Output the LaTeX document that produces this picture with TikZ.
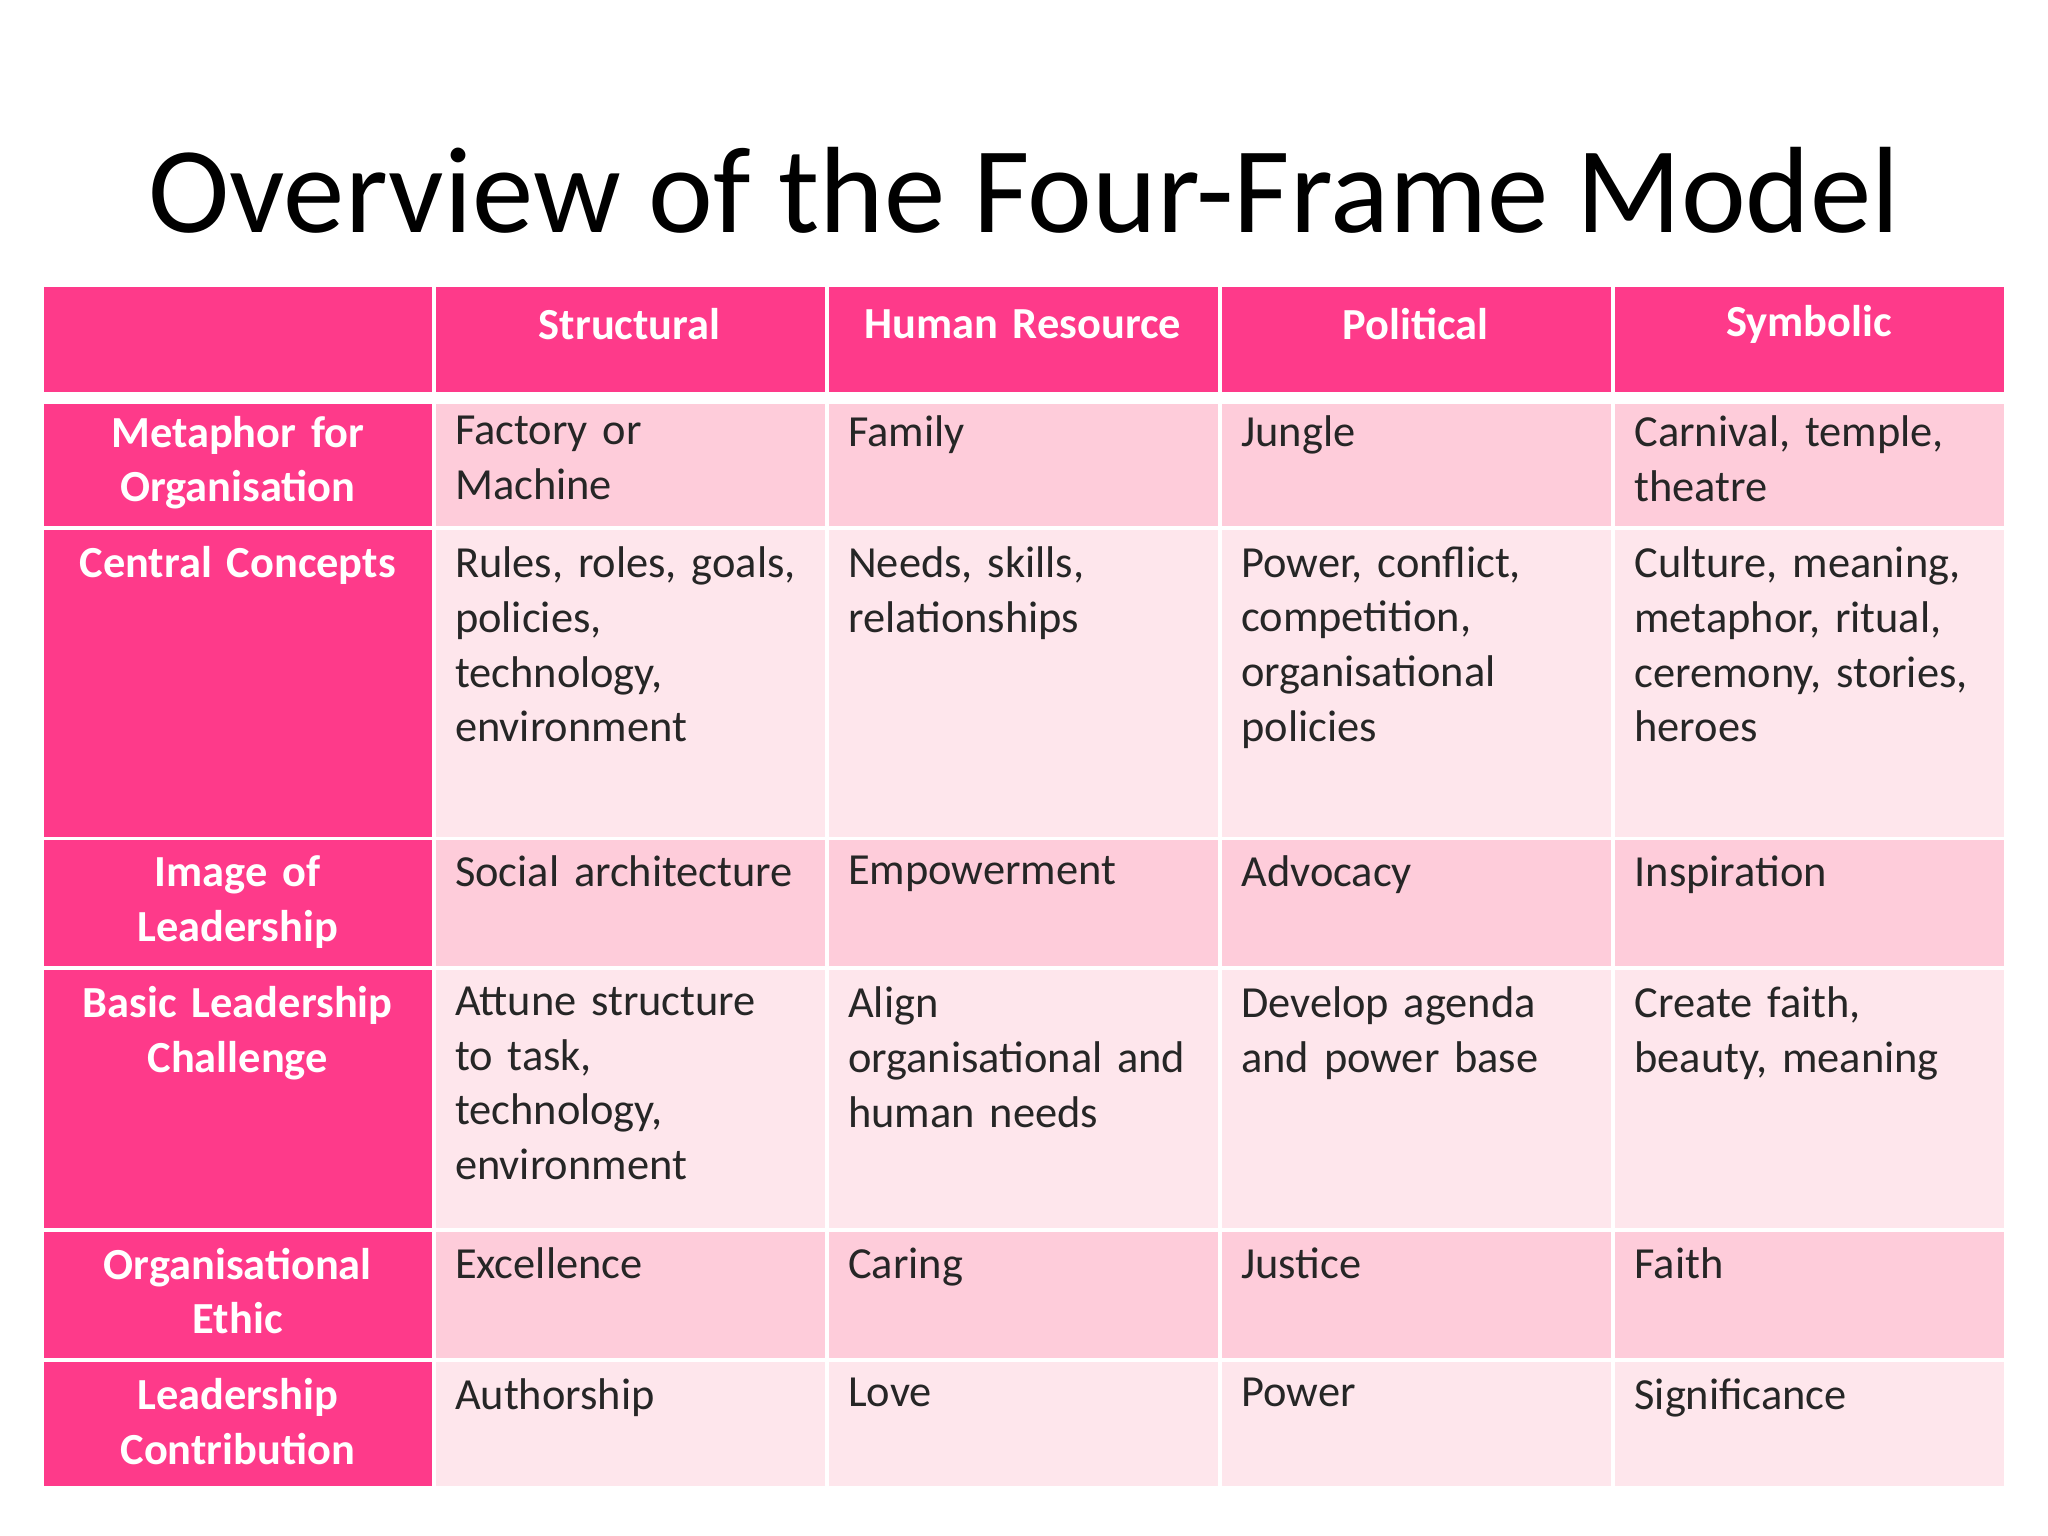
\documentclass[tikz,border=0pt]{standalone}
\usepackage{fontspec}
\setmainfont{Carlito}
\definecolor{mag}{HTML}{FE3A8A}
\definecolor{pinkA}{HTML}{FECCDA}
\definecolor{pinkB}{HTML}{FEE6EC}
\begin{document}
\begin{tikzpicture}[x=0.5pt,y=-0.5pt,
  cellbox/.style={draw=white,line width=1.5pt},
  txt/.style={anchor=north west,inner sep=0pt,align=left,text width=140pt,font=\fontsize{17}{21}\selectfont,text=black!85},
  hd/.style={inner sep=0pt,align=center,text width=140pt,font=\bfseries\fontsize{17}{21}\selectfont,text=white}]
\useasboundingbox (0,0) rectangle (1568,1176);
\fill[white] (0,0) rectangle (1568,1176);
\node[font=\fontsize{47}{52}\selectfont] (title) at (784,146) {Overview of the Four-Frame Model};
% header
\foreach \a/\b in {32/332,332/633,633/934,934/1235,1235/1536}
  \draw[cellbox,fill=mag] (\a,218) rectangle (\b,302);
\node[hd] (h1) at (482,248) {Structural};
\node[hd] (h2) at (783,248) {Human Resource};
\node[hd] (h3) at (1084,248) {Political};
\node[hd] (h4) at (1385,248) {Symbolic};
% body rows
\foreach \t/\u/\c in {308/404/pinkA,404/642/pinkB,642/741/pinkA,741/942/pinkB,942/1041/pinkA,1041/1139/pinkB}{
  \draw[cellbox,fill=mag] (32,\t) rectangle (332,\u);
  \foreach \a/\b in {332/633,633/934,934/1235,1235/1536}
    \draw[cellbox,fill=\c] (\a,\t) rectangle (\b,\u);
}
% first column
\node[hd,anchor=north] (r1) at (182,318) {Metaphor for\\Organisation};
\node[hd,anchor=north] (r2) at (182,418) {Central Concepts};
\node[hd,anchor=north] (r3) at (182,655) {Image of\\Leadership};
\node[hd,anchor=north] (r4) at (182,755) {Basic Leadership\\Challenge};
\node[hd,anchor=north] (r5) at (182,955) {Organisational\\Ethic};
\node[hd,anchor=north] (r6) at (182,1055) {Leadership\\Contribution};
% cells
\node[txt] (c11) at (348,318) {Factory or\\Machine};
\node[txt] (c12) at (649,318) {Family};
\node[txt] (c13) at (950,318) {Jungle};
\node[txt] (c14) at (1251,318) {Carnival, temple,\\theatre};
\node[txt] (c21) at (348,418) {Rules, roles, goals,\\policies,\\technology,\\environment};
\node[txt] (c22) at (649,418) {Needs, skills,\\relationships};
\node[txt] (c23) at (950,418) {Power, conflict,\\competition,\\organisational\\policies};
\node[txt] (c24) at (1251,418) {Culture, meaning,\\metaphor, ritual,\\ceremony, stories,\\heroes};
\node[txt] (c31) at (348,655) {Social architecture};
\node[txt] (c32) at (649,655) {Empowerment};
\node[txt] (c33) at (950,655) {Advocacy};
\node[txt] (c34) at (1251,655) {Inspiration};
\node[txt] (c41) at (348,755) {Attune structure\\to task,\\technology,\\environment};
\node[txt] (c42) at (649,755) {Align\\organisational and\\human needs};
\node[txt] (c43) at (950,755) {Develop agenda\\and power base};
\node[txt] (c44) at (1251,755) {Create faith,\\beauty, meaning};
\node[txt] (c51) at (348,955) {Excellence};
\node[txt] (c52) at (649,955) {Caring};
\node[txt] (c53) at (950,955) {Justice};
\node[txt] (c54) at (1251,955) {Faith};
\node[txt] (c61) at (348,1055) {Authorship};
\node[txt] (c62) at (649,1055) {Love};
\node[txt] (c63) at (950,1055) {Power};
\node[txt] (c64) at (1251,1055) {Significance};
\end{tikzpicture}
\end{document}
